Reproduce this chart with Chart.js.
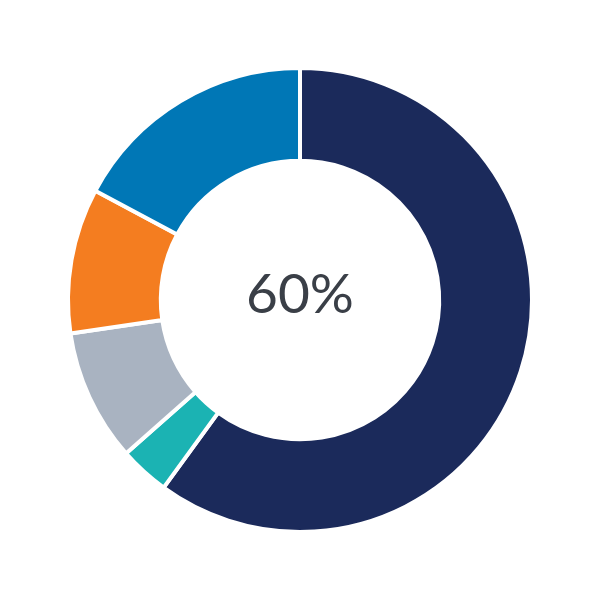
<!DOCTYPE html>
<html>
<head>
<meta charset="utf-8">
<script src="https://cdn.jsdelivr.net/npm/chart.js@4"></script>
<style>
  html, body { margin: 0; padding: 0; background: #fff; }
  #wrap { position: relative; width: 600px; height: 600px; }
  #centerLabel {
    position: absolute; left: 0; top: 0; width: 600px; height: 584px;
    display: flex; align-items: center; justify-content: center;
    font-family: Lato, sans-serif; font-weight: 400; font-size: 55px; color: #3a3f47;
    pointer-events: none;
  }
</style>
</head>
<body>
<div id="wrap">
  <canvas id="donut" width="600" height="600"></canvas>
  <div id="centerLabel">60%</div>
</div>
<script>
// segment order: clockwise from 12 o'clock
var labels = ["Navy", "Teal", "Gray", "Orange", "Blue"];
var values = [60, 3.5, 9.2, 10.1, 17.2];
var colors = ["#1b2a5b", "#1bb3b3", "#a9b3c1", "#f47d20", "#0077b6"];

var ctx = document.getElementById("donut");

var donutChart = new Chart(ctx, {
    type: 'doughnut',
    data: {
        labels: labels,
        datasets: [
            {
                data: values,
                backgroundColor: colors,
                borderColor: "#ffffff",
                borderWidth: 4
            }
        ]
    },
    options: {
        responsive: false,
        animation: false,
        cutout: "60%",
        layout: { padding: 66 },
        plugins: {
            legend: { display: false },
            tooltip: { enabled: false }
        }
    }
});
</script>
</body>
</html>
